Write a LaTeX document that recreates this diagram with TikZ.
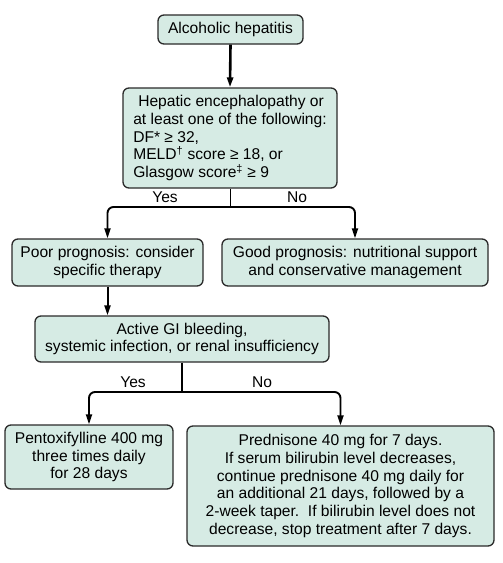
\documentclass[tikz,border=0pt]{standalone}
\usepackage{fontspec}
\setmainfont{Liberation Sans}
\usetikzlibrary{arrows.meta,calc}
\definecolor{boxfill}{HTML}{D6EBE4}
\definecolor{boxline}{HTML}{2A2A2A}
\begin{document}
\begin{tikzpicture}[x=1pt,y=-1pt,
  box/.style={draw=boxline,fill=boxfill,line width=1.3pt,rounded corners=6pt,
    inner sep=0pt,font=\fontsize{15.6}{17.8}\selectfont,align=center},
  conn/.style={line width=1.9pt,rounded corners=6pt},
  arr/.style={conn,-{Triangle[length=10pt,width=6pt]}},
  lbl/.style={font=\fontsize{15.6}{17.8}\selectfont,inner sep=0pt}]
\useasboundingbox (0,0) rectangle (503,563);
\node[box,minimum width=145pt,minimum height=29pt] (b1) at (230.5,29.5) {Alcoholic hepatitis};
\node[box,minimum width=214pt,minimum height=100pt,align=left] (b2) at (230,138)
  {\hspace*{5pt}Hepatic encephalopathy or\\at least one of the following:\\DF* ≥ 32,\\MELD\textsuperscript{†} score ≥ 18, or\\Glasgow score\textsuperscript{‡} ≥ 9};
\node[box,minimum width=191pt,minimum height=47pt] (b3) at (107.5,262.5) {Poor prognosis: consider\\specific therapy};
\node[box,minimum width=266pt,minimum height=47pt] (b4) at (355,262.5) {Good prognosis: nutritional support\\and conservative management};
\node[box,minimum width=294pt,minimum height=46pt] (b5) at (182,339) {Active GI bleeding,\\systemic infection, or renal insufficiency};
\node[box,minimum width=168pt,minimum height=64pt] (b6) at (89,457) {Pentoxifylline 400 mg\\three times daily\\for 28 days};
\node[box,minimum width=307pt,minimum height=120pt] (b7) at (340.5,486) {Prednisone 40 mg for 7 days.\\If serum bilirubin level decreases,\\continue prednisone 40 mg daily for\\an additional 21 days, followed by a\\2-week taper.\ \ If bilirubin level does not\\decrease, stop treatment after 7 days.};
\coordinate (j1) at (230,207);
\coordinate (j2) at (182,392);
\draw[arr,line width=2.6pt] (b1.south) -- (b2.north);
\draw[line width=1pt] (b2.south) -- (j1);
\draw[arr] (j1) -| (b3.north);
\draw[arr] (j1) -| (b4.north);
\draw[arr,line width=2pt] (b3.south) -- (b3.south |- b5.north);
\draw[line width=1.3pt] (b5.south) -- (j2);
\draw[arr] (j2) -| (b6.north);
\draw[arr] (j2) -| (b7.north);
\node[lbl] (y1) at (165,197) {Yes};
\node[lbl] (n1) at (297,197) {No};
\node[lbl] (y2) at (133,382) {Yes};
\node[lbl] (n2) at (262,382) {No};
\end{tikzpicture}
\end{document}
